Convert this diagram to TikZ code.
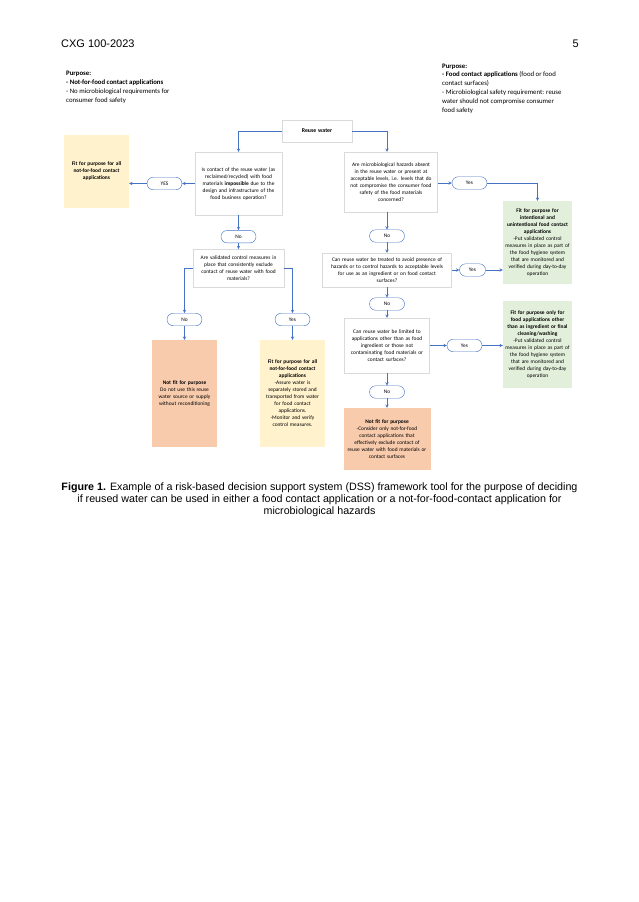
\documentclass[tikz,border=0pt]{standalone}
\usepackage{fontspec}
\setmainfont{Carlito}
\newfontfamily\arialfont{Liberation Sans}
\usetikzlibrary{shapes,arrows,positioning}

\definecolor{flowblue}{HTML}{4472C4}
\definecolor{fityellow}{HTML}{FFF2CC}
\definecolor{fitgreen}{HTML}{E2EFDA}
\definecolor{notfitorange}{HTML}{F8CBAD}
\definecolor{boxline}{HTML}{DADADA}

\newcommand{\flowfont}{\fontsize{5.4}{7}\selectfont}
\newcommand{\notefont}{\fontsize{6.8}{8.8}\selectfont}

\begin{document}
\begin{tikzpicture}[x=1pt, y=-1pt, >=stealth,
    qbox/.style={draw=boxline, fill=white, rectangle, align=center, inner sep=1.5pt, font=\flowfont},
    outbox/.style={rectangle, align=center, inner sep=1.5pt, font=\flowfont},
    answer/.style={draw=flowblue, rounded rectangle, minimum width=35pt, minimum height=12.5pt, inner sep=0pt, font=\flowfont},
    flow/.style={->, draw=flowblue, line width=0.5pt}]
        \useasboundingbox[fill=white] (0,0) rectangle (638,902);

        % Page header
        \node[font=\arialfont\fontsize{11}{13}\selectfont, anchor=west, inner sep=0pt] (docid) at (61,44) {CXG 100-2023};
        \node[font=\arialfont\fontsize{11}{13}\selectfont, anchor=east, inner sep=0pt] (pageno) at (579,44) {5};

        % Purpose notes
        \node[font=\notefont, anchor=north west, align=left, inner sep=0pt] (purposeL) at (66,71) {\textbf{Purpose:}\\ \textbf{- Not-for-food contact applications}\\ - No microbiological requirements for\\ consumer food safety};
        \node[font=\notefont, anchor=north west, align=left, inner sep=0pt] (purposeR) at (442,63.5) {\textbf{Purpose:}\\ \textbf{- Food contact applications} (food or food\\ contact surfaces)\\ - Microbiological safety requirement: reuse\\ water should not compromise consumer\\ food safety};

        % Not-for-food side
        \node[qbox, text width=67, minimum height=22, font=\fontsize{5.8}{7}\selectfont\bfseries] (reuse) at (317,131) {Reuse water};
        \node[qbox, text width=84, minimum height=63] (q1) at (238.5,183.5) {Is contact of the reuse water (as\\ reclaimed/recycled) with food\\ materials \textbf{impossible} due to the\\ design and infrastructure of the\\ food business operation?};
        \node[answer] (yesL) at (164.5,183.5) {YES};
        \node[outbox, fill=fityellow, text width=62, minimum height=73, font=\flowfont\bfseries] (fitL) at (96.5,171.5) {Fit for purpose for all\\ not-for-food contact\\ applications};
        \node[answer, below=15pt of q1] (no1) {No};
        \node[qbox, text width=88, minimum height=38, below=6pt of no1] (q1b) {Are validated control measures in\\ place that consistently exclude\\ contact of reuse water with food\\ materials?};
        \node[answer] (noL) at (184.5,319.5) {No};
        \node[answer] (yesB) at (292.5,319.5) {Yes};
        \node[outbox, fill=notfitorange, text width=62, minimum height=107] (notfitL) at (184.5,393.5) {\textbf{Not fit for purpose}\\ Do not use this reuse\\ water source or supply\\ without reconditioning};
        \node[outbox, fill=fityellow, text width=62, minimum height=107] (fitB) at (292.5,393.5) {\textbf{Fit for purpose for all}\\ \textbf{not-for-food contact}\\ \textbf{applications}\\ -Assure water is\\ separately stored and\\ transported from water\\ for food contact\\ applications.\\ -Monitor and verify\\ control measures.};

        % Food contact side
        \node[qbox, text width=90, minimum height=60] (q2) at (391,182) {Are microbiological hazards absent\\ in the reuse water or present at\\ acceptable levels, i.e. levels that do\\ not compromise the consumer food\\ safety of the food materials\\ concerned?};
        \node[answer] (yes2) at (469.5,183) {Yes};
        \node[outbox, fill=fitgreen, text width=66, minimum height=83] (green1) at (537.5,242.5) {\textbf{Fit for purpose for}\\ \textbf{intentional and}\\ \textbf{unintentional food contact}\\ \textbf{applications}\\ -Put validated control\\ measures in place as part of\\ the food hygiene system\\ that are monitored and\\ verified during day-to-day\\ operation};
        \node[answer] (no2) at (387,236) {No};
        \node[qbox, text width=126, minimum height=34] (q3) at (387,270) {Can reuse water be treated to avoid presence of\\ hazards or to control hazards to acceptable levels\\ for use as an ingredient or on food contact\\ surfaces?};
        \node[answer, minimum width=26pt] (yes3) at (472.5,270) {Yes};
        \node[answer] (no3) at (387,304) {No};
        \node[qbox, text width=82, minimum height=55] (q4) at (387,345.5) {Can reuse water be limited to\\ applications other than as food\\ ingredient or those not\\ contaminating food materials or\\ contact surfaces?};
        \node[answer] (yes4) at (464.5,345.5) {Yes};
        \node[outbox, fill=fitgreen, text width=66, minimum height=87] (green2) at (537.5,344.5) {\textbf{Fit for purpose only for}\\ \textbf{food applications other}\\ \textbf{than as ingredient or final}\\ \textbf{cleaning/washing}\\ -Put validated control\\ measures in place as part of\\ the food hygiene system\\ that are monitored and\\ verified during day-to-day\\ operation};
        \node[answer] (no4) at (387,392) {No};
        \node[outbox, fill=notfitorange, text width=84, minimum height=62] (notfit2) at (387,439) {\textbf{Not fit for purpose}\\ -Consider only not-for-food\\ contact applications that\\ effectively exclude contact of\\ reuse water with food materials or\\ contact surfaces};

        % Arrows for not-for-food side
        \draw[flow] (reuse.west) -| (q1.north);
        \draw[flow] (q1.west) -- (yesL.east);
        \draw[flow] (yesL.west) -- (yesL.west -| fitL.east);
        \draw[flow] (q1.south) -- (no1.north);
        \draw[flow] (no1.south) -- (q1b.north);
        \draw[flow] (q1b.west) -| (noL.north);
        \draw[flow] (noL.south) -- (notfitL.north);
        \draw[flow] (q1b.east) -| (yesB.north);
        \draw[flow] (yesB.south) -- (fitB.north);

        % Arrows for food contact side
        \draw[flow] (reuse.east) -| (q2.north -| no2.north);
        \draw[flow] (yes2.west -| q2.east) -- (yes2.west);
        \draw[flow] (yes2.east) -| (green1.north);
        \draw[flow] (q2.south -| no2.north) -- (no2.north);
        \draw[flow] (no2.south) -- (q3.north);
        \draw[flow] (q3.east) -- (yes3.west);
        \draw[flow] (yes3.east) -- (yes3.east -| green1.west);
        \draw[flow] (q3.south) -- (no3.north);
        \draw[flow] (no3.south) -- (q4.north);
        \draw[flow] (q4.east) -- (yes4.west);
        \draw[flow] (yes4.east) -- (yes4.east -| green2.west);
        \draw[flow] (q4.south) -- (no4.north);
        \draw[flow] (no4.south) -- (notfit2.north);

        % Caption
        \node[font=\arialfont\fontsize{10.7}{12}\selectfont, align=center, anchor=north, inner sep=0pt] (caption) at (319.5,482.5) {\textbf{Figure 1.} Example of a risk-based decision support system (DSS) framework tool for the purpose of deciding\\ if reused water can be used in either a food contact application or a not-for-food-contact application for\\ microbiological hazards};
    \end{tikzpicture}
\end{document}
